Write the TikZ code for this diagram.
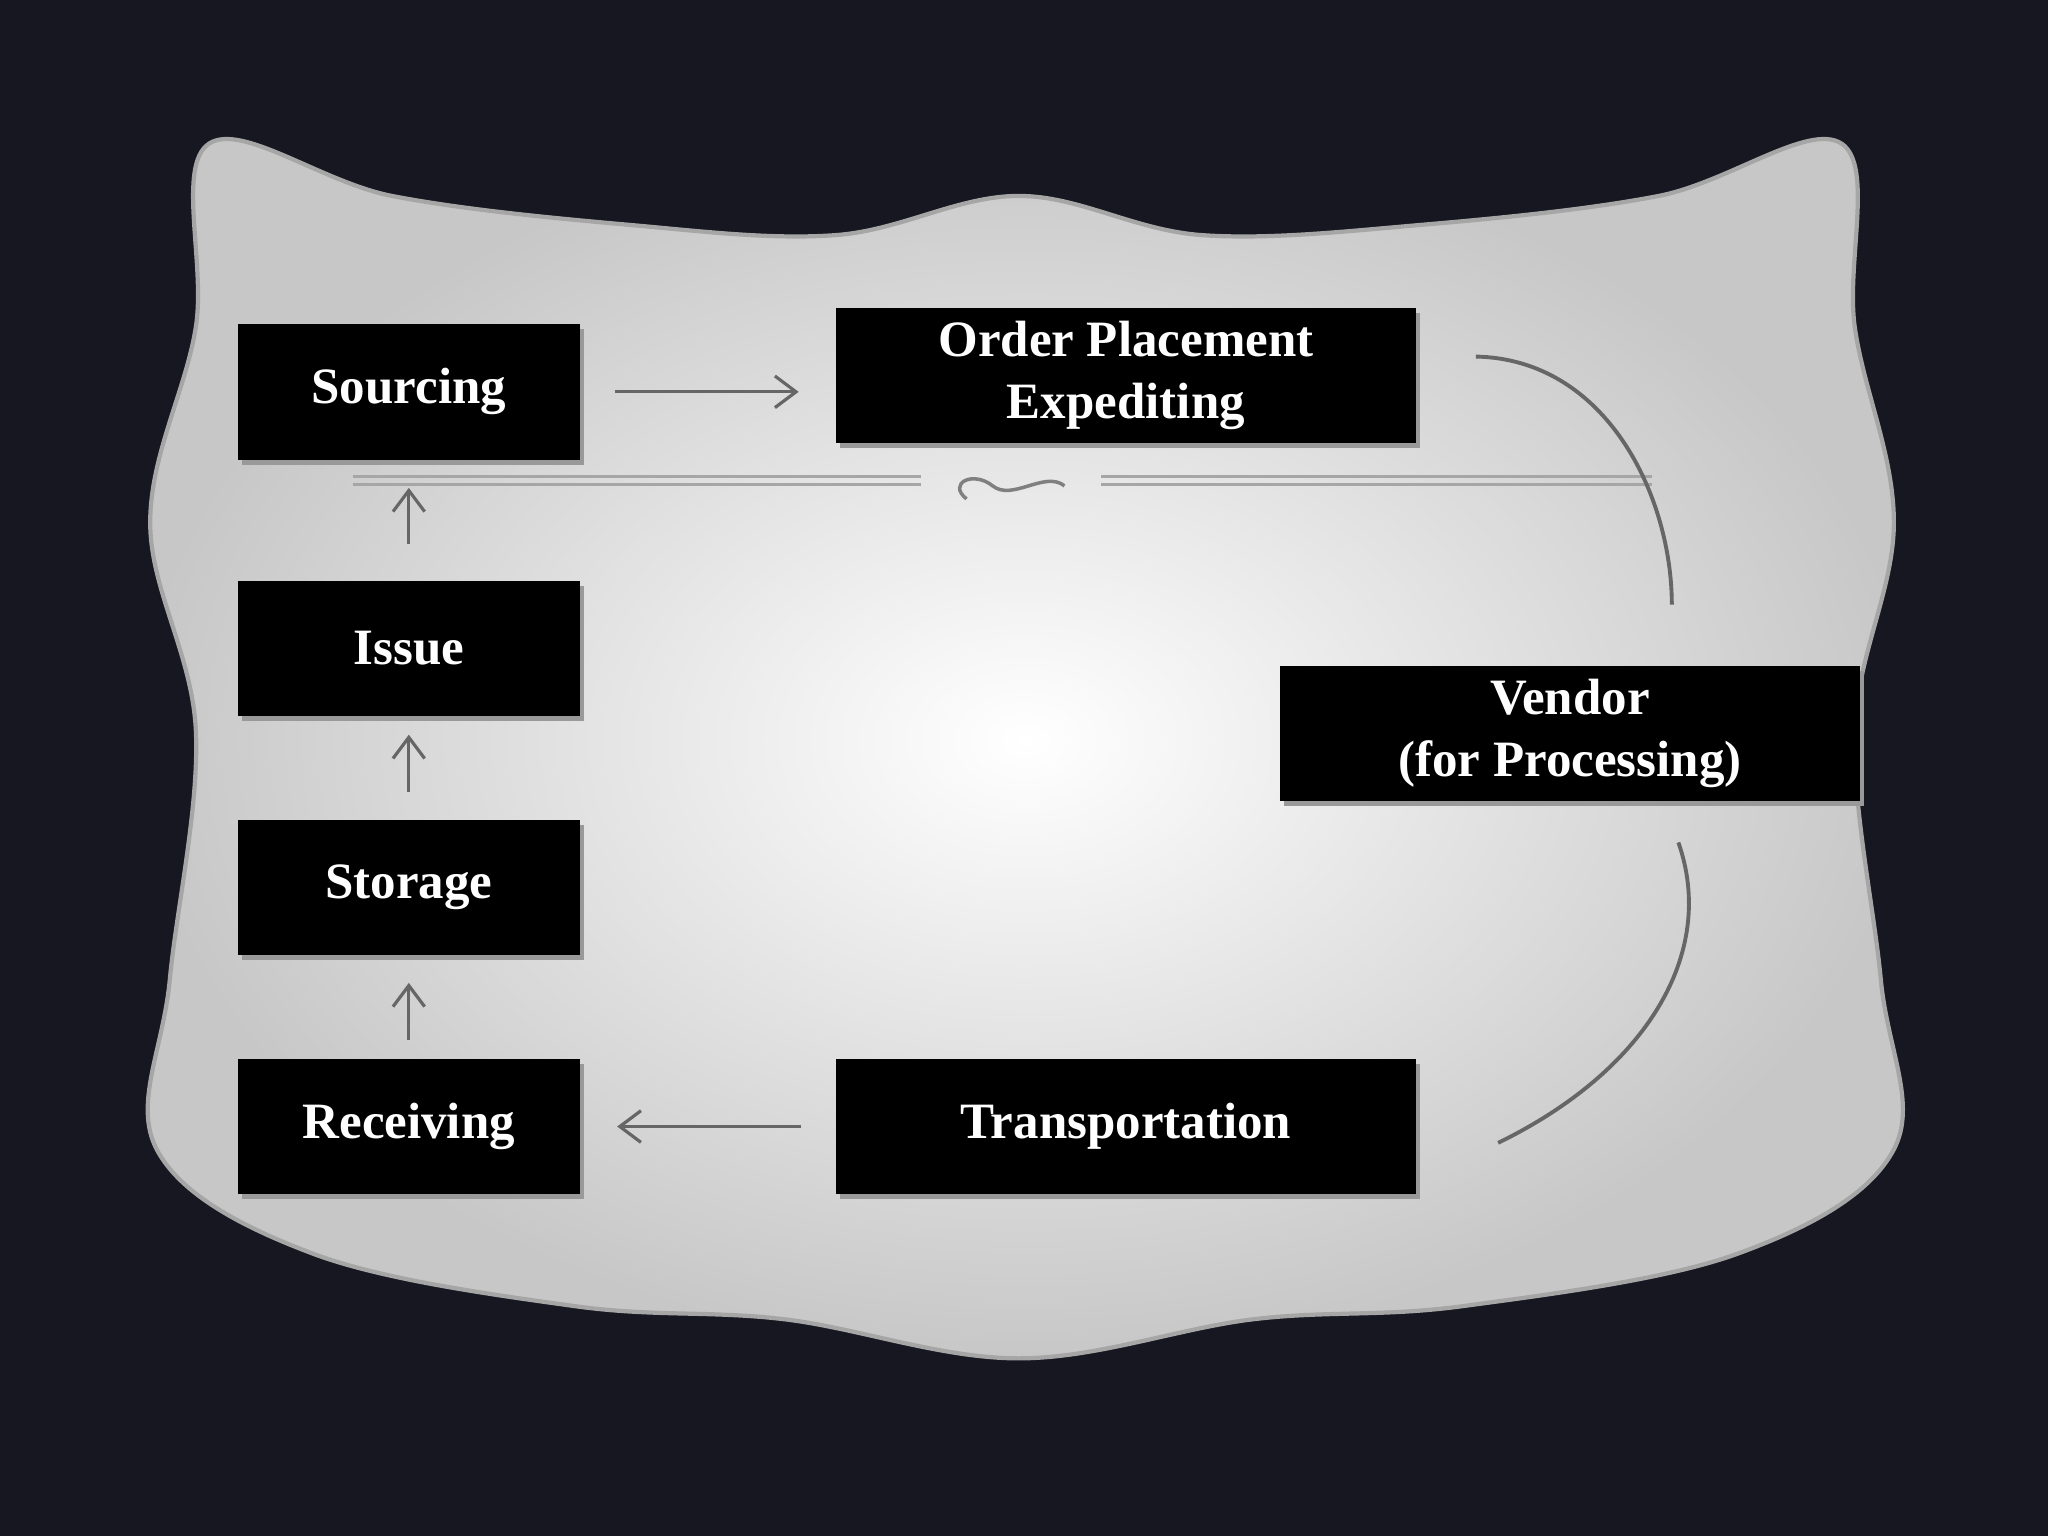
\documentclass[tikz,border=0pt]{standalone}
\usepackage{fontspec}
\setmainfont{Liberation Serif}
\usetikzlibrary{arrows.meta}
\begin{document}
\begin{tikzpicture}[x=0.01306cm,y=-0.01306cm,
  box/.style={fill=black,text=white,font=\bfseries\fontsize{14.5}{17.5}\selectfont,align=center,inner sep=0pt},
  arr/.style={draw=black!60,line width=0.9pt,-{Straight Barb[length=6pt,width=9pt]}},
  curve/.style={draw=black!60,line width=1.1pt}]
\fill[fill={rgb,255:red,22;green,23;blue,32}] (0,0) rectangle (1568,1176);
\useasboundingbox (0,0) rectangle (1568,1176);
% frame
\shade[inner color=white,outer color=black!22]
 plot[smooth cycle,tension=0.6] coordinates{
 (160,110) (300,150) (480,172) (640,180) (780,150) (920,180) (1090,172) (1270,150) (1410,110)
 (1420,250) (1450,400) (1420,560) (1440,750) (1450,880)
 (1330,960) (1120,1000) (960,1010) (780,1040) (600,1010) (440,1000) (240,960) (120,880)
 (130,750) (150,560) (115,400) (150,250)};
\draw[black!35,line width=1.2pt]
 plot[smooth cycle,tension=0.6] coordinates{
 (160,110) (300,150) (480,172) (640,180) (780,150) (920,180) (1090,172) (1270,150) (1410,110)
 (1420,250) (1450,400) (1420,560) (1440,750) (1450,880)
 (1330,960) (1120,1000) (960,1010) (780,1040) (600,1010) (440,1000) (240,960) (120,880)
 (130,750) (150,560) (115,400) (150,250)};
% divider
\foreach \yy in {365,371}{
 \draw[black!35,line width=0.8pt] (270,\yy) -- (705,\yy);
 \draw[black!35,line width=0.8pt] (843,\yy) -- (1265,\yy);}
\draw[black!50,line width=1pt] (740,382) .. controls (725,370) and (745,360) .. (760,372) .. controls (775,384) and (800,360) .. (815,372);
% shadows
\foreach \a/\b/\c/\d in {182/248/444/352,640/236/1084/339,182/445/444/548,182/628/444/731,182/811/444/914,640/811/1084/914,980/510/1424/613}
 \fill[black!40] (\a+3,\b+4) rectangle (\c+3,\d+4);
\node[box,minimum width=262*0.01306cm,minimum height=104*0.01306cm] (src) at (313,300) {Sourcing};
\node[box,minimum width=444*0.01306cm,minimum height=103*0.01306cm] (ord) at (862,287.5) {Order Placement\\Expediting};
\node[box,minimum width=262*0.01306cm,minimum height=103*0.01306cm] (iss) at (313,496.5) {Issue};
\node[box,minimum width=262*0.01306cm,minimum height=103*0.01306cm] (sto) at (313,679.5) {Storage};
\node[box,minimum width=262*0.01306cm,minimum height=103*0.01306cm] (rec) at (313,862.5) {Receiving};
\node[box,minimum width=444*0.01306cm,minimum height=103*0.01306cm] (tra) at (862,862.5) {Transportation};
\node[box,minimum width=444*0.01306cm,minimum height=103*0.01306cm] (ven) at (1202,561.5) {Vendor\\(for Processing)};
\draw[arr] ([xshift=26*0.01306cm]src.east) -- ([xshift=-28*0.01306cm]ord.west|-src.east);
\draw[arr] ([yshift=28*0.01306cm]iss.north) -- ([yshift=-21*0.01306cm]src.south);
\draw[arr] ([yshift=21*0.01306cm]sto.north) -- ([yshift=-14*0.01306cm]iss.south);
\draw[arr] ([yshift=14*0.01306cm]rec.north) -- ([yshift=-21*0.01306cm]sto.south);
\draw[arr] ([xshift=-26*0.01306cm]tra.west) -- ([xshift=28*0.01306cm]rec.east);
\coordinate (c1) at (1130,273); \coordinate (c2) at (1280,463);
\coordinate (c3) at (1285,645); \coordinate (c4) at (1147,875);
\draw[curve] (c1) .. controls (1230,275) and (1280,380) .. (c2);
\draw[curve] (c3) .. controls (1315,730) and (1260,820) .. (c4);
\end{tikzpicture}
\end{document}
